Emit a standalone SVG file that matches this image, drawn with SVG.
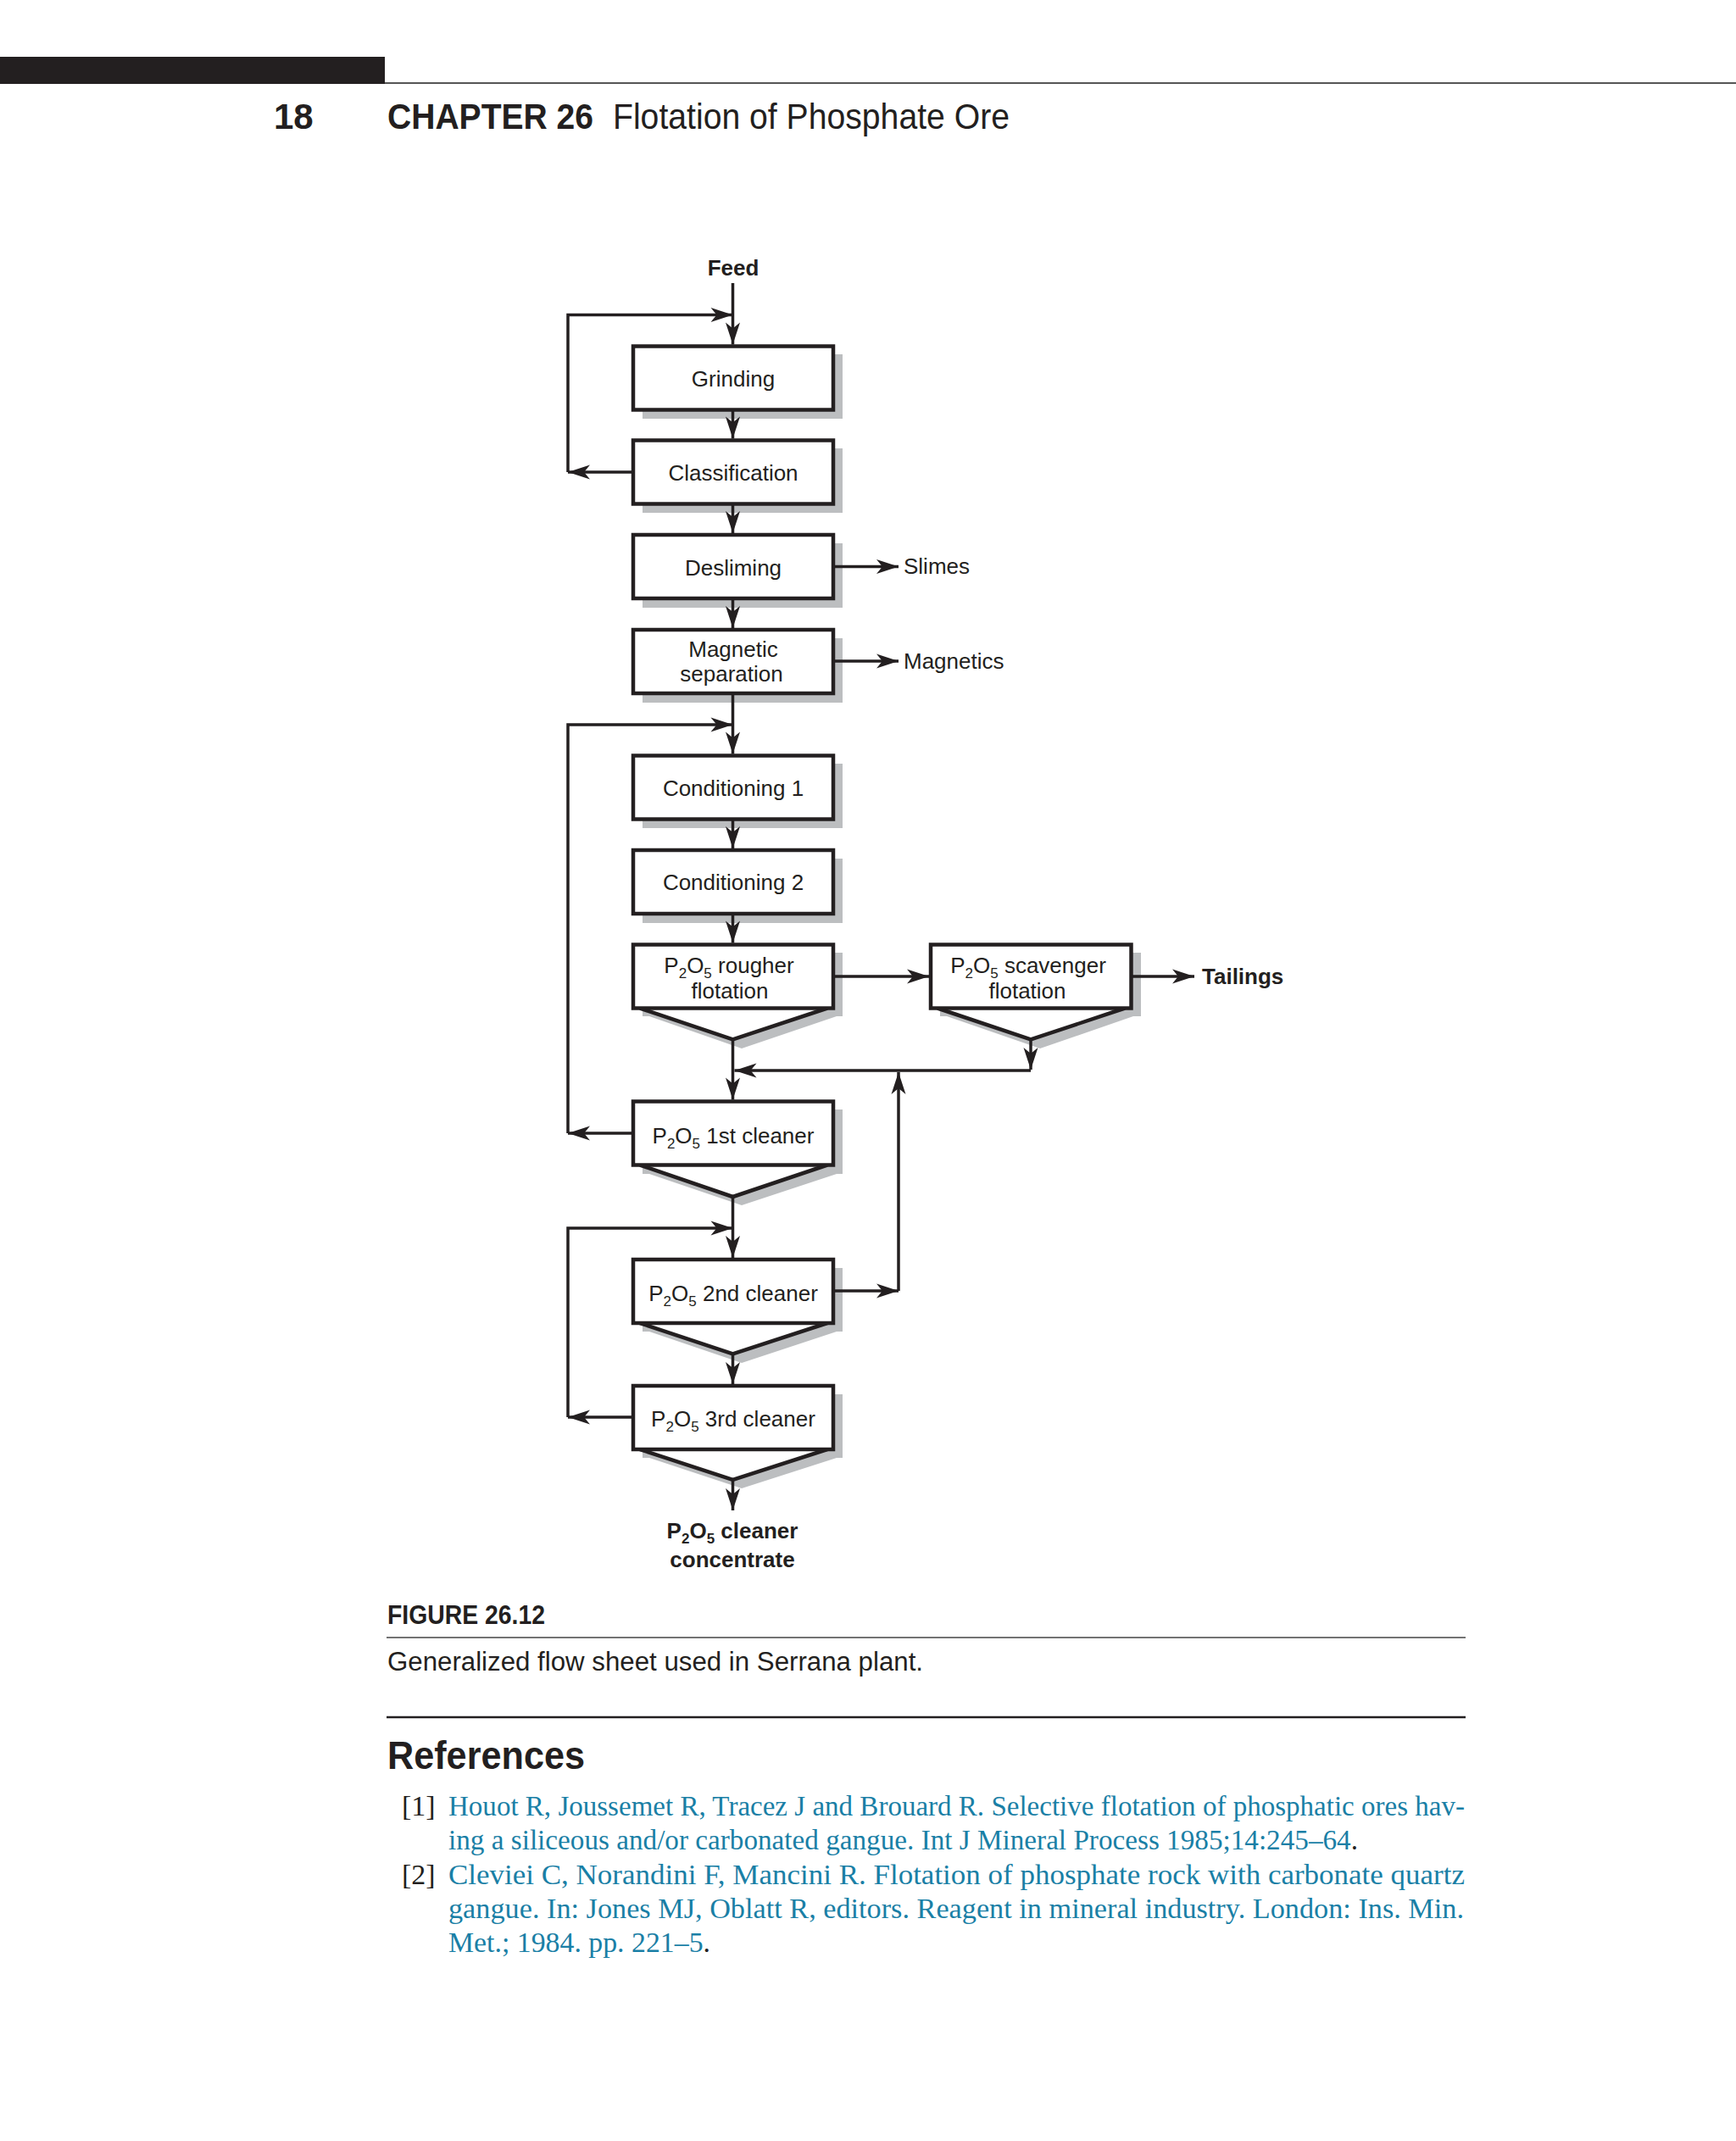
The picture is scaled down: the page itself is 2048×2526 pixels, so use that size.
<svg xmlns="http://www.w3.org/2000/svg" width="2048" height="2526" viewBox="0 0 2048 2526">
<style>
  .box { fill: #ffffff; stroke: #231f20; stroke-width: 4.5; }
  .hop { fill: #ffffff; stroke: #231f20; stroke-width: 4.5; stroke-linejoin: miter; }
  .sh { fill: #bcbec0; stroke: none; }
  .ln { fill: none; stroke: #231f20; stroke-width: 3.5; }
  .t { font-family: "Liberation Sans", Arial, sans-serif; font-size: 26px; fill: #231f20; }
  .tb { font-family: "Liberation Sans", Arial, sans-serif; font-size: 26px; font-weight: bold; fill: #231f20; }
  .c { text-anchor: middle; }
  .sub { font-size: 17px; }
  .hd { font-family: "Liberation Sans", Arial, sans-serif; fill: #231f20; }
  .ref { font-family: "Liberation Serif", "Times New Roman", serif; font-size: 34px; fill: #1a7fa6; }
  .refn { font-family: "Liberation Serif", "Times New Roman", serif; font-size: 34px; fill: #231f20; }
</style>
<defs>
  <marker id="ah" markerUnits="userSpaceOnUse" markerWidth="30" markerHeight="20" viewBox="-27 -10 30 20" refX="0" refY="0" orient="auto">
    <path d="M0,0 L-26,-8.5 L-19,0 L-26,8.5 Z" fill="#231f20"/>
  </marker>
</defs>
<rect width="2048" height="2526" fill="#ffffff"/>

<!-- page header -->
<g id="header">
  <rect x="0" y="67" width="454" height="32" fill="#231f20"/>
  <line x1="454" y1="98" x2="2048" y2="98" stroke="#555555" stroke-width="2"/>
  <text class="hd" x="323" y="152" font-size="42" font-weight="bold">18</text>
  <text class="hd" x="457" y="152" font-size="42" font-weight="bold" textLength="243" lengthAdjust="spacingAndGlyphs">CHAPTER 26</text>
  <text class="hd" x="723" y="152" font-size="42" textLength="468" lengthAdjust="spacingAndGlyphs">Flotation of Phosphate Ore</text>
</g>

<!-- shadows -->
<g id="shadows">
  <rect class="sh" x="758" y="418" width="236" height="76"/>
  <rect class="sh" x="758" y="529" width="236" height="76"/>
  <rect class="sh" x="758" y="641" width="236" height="76"/>
  <rect class="sh" x="758" y="753" width="236" height="76"/>
  <rect class="sh" x="758" y="901" width="236" height="76"/>
  <rect class="sh" x="758" y="1013" width="236" height="76"/>
  <polygon class="sh" points="758,1124 994,1124 994,1199 987,1199 875,1237 766,1199 758,1199"/>
  <polygon class="sh" points="1109,1124 1346,1124 1346,1199 1337,1199 1227,1237 1117,1199 1109,1199"/>
  <polygon class="sh" points="758,1309 994,1309 994,1385 987,1385 875,1422 766,1385 758,1385"/>
  <polygon class="sh" points="758,1496 994,1496 994,1571 987,1571 875,1608 766,1571 758,1571"/>
  <polygon class="sh" points="758,1645 994,1645 994,1720 987,1720 875,1756 766,1720 758,1720"/>
</g>

<!-- nodes -->
<g id="feed"><text class="tb c" x="865" y="325">Feed</text></g>
<g id="grinding">
  <rect class="box" x="747" y="408.5" width="236" height="75"/>
  <text class="t c" x="865" y="456">Grinding</text>
</g>
<g id="classification">
  <rect class="box" x="747" y="519.5" width="236" height="75"/>
  <text class="t c" x="865" y="567">Classification</text>
</g>
<g id="desliming">
  <rect class="box" x="747" y="631" width="236" height="75"/>
  <text class="t c" x="865" y="679">Desliming</text>
</g>
<g id="slimes"><text class="t" x="1066" y="677">Slimes</text></g>
<g id="magnetic-separation">
  <rect class="box" x="747" y="743" width="236" height="75"/>
  <text class="t c" x="865" y="775">Magnetic</text>
  <text class="t c" x="863" y="804">separation</text>
</g>
<g id="magnetics"><text class="t" x="1066" y="789">Magnetics</text></g>
<g id="conditioning-1">
  <rect class="box" x="747" y="891.5" width="236" height="75"/>
  <text class="t c" x="865" y="939">Conditioning 1</text>
</g>
<g id="conditioning-2">
  <rect class="box" x="747" y="1003" width="236" height="75"/>
  <text class="t c" x="865" y="1050">Conditioning 2</text>
</g>
<g id="rougher">
  <path class="hop" d="M755,1189.5 L864.5,1226.5 L976,1189.5"/>
  <rect class="box" x="747" y="1114.5" width="236" height="75"/>
  <text class="t c" x="860" y="1148">P<tspan class="sub" dy="6">2</tspan><tspan dy="-6">O</tspan><tspan class="sub" dy="6">5</tspan><tspan dy="-6"> rougher</tspan></text>
  <text class="t c" x="861" y="1178">flotation</text>
</g>
<g id="scavenger">
  <path class="hop" d="M1106,1189.5 L1216,1226.5 L1327,1189.5"/>
  <rect class="box" x="1098" y="1114.5" width="236.5" height="75"/>
  <text class="t c" x="1213" y="1148">P<tspan class="sub" dy="6">2</tspan><tspan dy="-6">O</tspan><tspan class="sub" dy="6">5</tspan><tspan dy="-6"> scavenger</tspan></text>
  <text class="t c" x="1212" y="1178">flotation</text>
</g>
<g id="tailings"><text class="tb" x="1418" y="1161">Tailings</text></g>
<g id="cleaner-1">
  <path class="hop" d="M755,1374.5 L864.5,1412 L976,1374.5"/>
  <rect class="box" x="747" y="1299.5" width="236" height="75"/>
  <text class="t c" x="865" y="1349">P<tspan class="sub" dy="6">2</tspan><tspan dy="-6">O</tspan><tspan class="sub" dy="6">5</tspan><tspan dy="-6"> 1st cleaner</tspan></text>
</g>
<g id="cleaner-2">
  <path class="hop" d="M755,1561 L864.5,1597.5 L976,1561"/>
  <rect class="box" x="747" y="1486" width="236" height="75"/>
  <text class="t c" x="865" y="1535">P<tspan class="sub" dy="6">2</tspan><tspan dy="-6">O</tspan><tspan class="sub" dy="6">5</tspan><tspan dy="-6"> 2nd cleaner</tspan></text>
</g>
<g id="cleaner-3">
  <path class="hop" d="M755,1710 L864.5,1746 L976,1710"/>
  <rect class="box" x="747" y="1635" width="236" height="75"/>
  <text class="t c" x="865" y="1683">P<tspan class="sub" dy="6">2</tspan><tspan dy="-6">O</tspan><tspan class="sub" dy="6">5</tspan><tspan dy="-6"> 3rd cleaner</tspan></text>
</g>
<g id="concentrate">
  <text class="tb c" x="864" y="1815">P<tspan class="sub" dy="6">2</tspan><tspan dy="-6">O</tspan><tspan class="sub" dy="6">5</tspan><tspan dy="-6"> cleaner</tspan></text>
  <text class="tb c" x="864" y="1849">concentrate</text>
</g>

<!-- connectors -->
<g id="connectors" class="ln">
  <path class="ln" d="M864.5,334 V406.5" marker-end="url(#ah)"/>
  <path class="ln" d="M747,557 H670" marker-end="url(#ah)"/>
  <path class="ln" d="M670,557 V371.5 H864.5" marker-end="url(#ah)"/>
  <path class="ln" d="M864.5,484 V517.5" marker-end="url(#ah)"/>
  <path class="ln" d="M864.5,595 V629" marker-end="url(#ah)"/>
  <path class="ln" d="M983,668.5 H1060" marker-end="url(#ah)"/>
  <path class="ln" d="M864.5,706 V741" marker-end="url(#ah)"/>
  <path class="ln" d="M983,780 H1060" marker-end="url(#ah)"/>
  <path class="ln" d="M864.5,818 V889.5" marker-end="url(#ah)"/>
  <path class="ln" d="M747,1337 H670" marker-end="url(#ah)"/>
  <path class="ln" d="M670,1337 V855 H864.5" marker-end="url(#ah)"/>
  <path class="ln" d="M864.5,967 V1001" marker-end="url(#ah)"/>
  <path class="ln" d="M864.5,1078 V1112.5" marker-end="url(#ah)"/>
  <path class="ln" d="M983,1152 H1096" marker-end="url(#ah)"/>
  <path class="ln" d="M1334.5,1152 H1409" marker-end="url(#ah)"/>
  <path class="ln" d="M864.5,1226.5 V1297.5" marker-end="url(#ah)"/>
  <path class="ln" d="M1216,1226.5 V1262" marker-end="url(#ah)"/>
  <path class="ln" d="M1216,1263 H866.5" marker-end="url(#ah)"/>
  <path class="ln" d="M983,1523 H1060" marker-end="url(#ah)"/>
  <path class="ln" d="M1060,1523 V1265" marker-end="url(#ah)"/>
  <path class="ln" d="M864.5,1412 V1484" marker-end="url(#ah)"/>
  <path class="ln" d="M747,1672 H670" marker-end="url(#ah)"/>
  <path class="ln" d="M670,1672 V1449 H864.5" marker-end="url(#ah)"/>
  <path class="ln" d="M864.5,1597.5 V1633" marker-end="url(#ah)"/>
  <path class="ln" d="M864.5,1746 V1782" marker-end="url(#ah)"/>
</g>

<!-- caption -->
<g id="caption">
  <text class="hd" x="457" y="1916" font-size="31" font-weight="bold" textLength="186" lengthAdjust="spacingAndGlyphs">FIGURE 26.12</text>
  <line x1="456" y1="1932" x2="1729" y2="1932" stroke="#444444" stroke-width="1.6"/>
  <text class="hd" x="457" y="1971" font-size="31" textLength="632" lengthAdjust="spacingAndGlyphs">Generalized flow sheet used in Serrana plant.</text>
  <line x1="456" y1="2026" x2="1729" y2="2026" stroke="#231f20" stroke-width="2.5"/>
</g>

<!-- references -->
<g id="references">
  <text class="hd" x="457" y="2087" font-size="46" font-weight="bold" textLength="233" lengthAdjust="spacingAndGlyphs">References</text>
  <text class="refn" x="474" y="2142">[1]</text>
  <text class="ref" x="529" y="2142" textLength="1199" lengthAdjust="spacingAndGlyphs">Houot R, Joussemet R, Tracez J and Brouard R. Selective flotation of phosphatic ores hav-</text>
  <text class="ref" x="529" y="2182" textLength="1073" lengthAdjust="spacingAndGlyphs">ing a siliceous and/or carbonated gangue. Int J Mineral Process 1985;14:245–64<tspan fill="#231f20">.</tspan></text>
  <text class="refn" x="474" y="2223">[2]</text>
  <text class="ref" x="529" y="2223" textLength="1199" lengthAdjust="spacingAndGlyphs">Cleviei C, Norandini F, Mancini R. Flotation of phosphate rock with carbonate quartz</text>
  <text class="ref" x="529" y="2263" textLength="1198" lengthAdjust="spacingAndGlyphs">gangue. In: Jones MJ, Oblatt R, editors. Reagent in mineral industry. London: Ins. Min.</text>
  <text class="ref" x="529" y="2303" textLength="309" lengthAdjust="spacingAndGlyphs">Met.; 1984. pp. 221–5<tspan fill="#231f20">.</tspan></text>
</g>
</svg>
